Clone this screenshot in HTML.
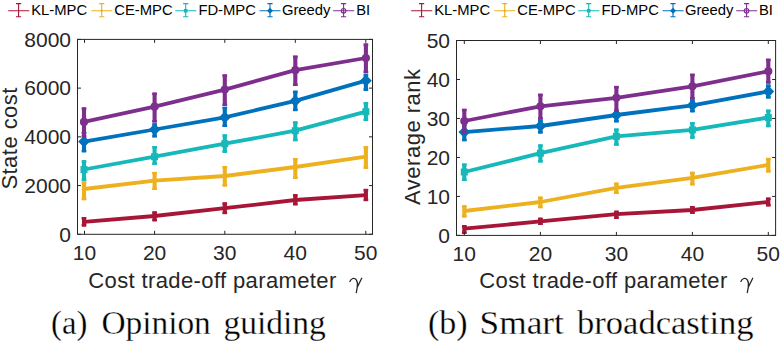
<!DOCTYPE html>
<html><head><meta charset="utf-8"><style>
html,body{margin:0;padding:0;background:#fff;width:781px;height:342px;overflow:hidden}
svg{display:block}
text{font-family:"Liberation Sans",sans-serif;}
.tk{font-size:21px;fill:#262626}
.lb{font-size:22px;fill:#262626}
.lg{font-size:14.8px;fill:#000}
.gm{font-family:"Liberation Serif",serif;font-style:italic;font-size:24px;fill:#262626}
.cap{font-family:"Liberation Serif",serif;font-size:33px;fill:#000;stroke:#fff;stroke-width:0.3px}
</style></head><body>
<svg width="781" height="342" viewBox="0 0 781 342">
<path d="M8.2 10.75H29.2M18.6 3.6V16.7M16.0 3.6H21.200000000000003M16.0 16.7H21.200000000000003" stroke="#A71636" stroke-width="1.1" fill="none"/>
<text x="31.20" y="15.4" class="lg">KL-MPC</text>
<path d="M91.3 10.75H112.3M101.7 3.6V16.7M99.10000000000001 3.6H104.3M99.10000000000001 16.7H104.3" stroke="#EDB120" stroke-width="1.1" fill="none"/>
<circle cx="101.7" cy="10.75" r="1.2" fill="#EDB120"/>
<text x="114.30" y="15.4" class="lg">CE-MPC</text>
<path d="M175.3 10.75H196.3M185.70000000000002 3.6V16.7M183.10000000000002 3.6H188.3M183.10000000000002 16.7H188.3" stroke="#17B8BA" stroke-width="1.1" fill="none"/>
<rect x="183.9" y="8.95" width="3.6" height="3.6" fill="#17B8BA"/>
<text x="198.40" y="15.4" class="lg">FD-MPC</text>
<path d="M259.6 10.75H280.6M270.0 3.6V16.7M267.4 3.6H272.6M267.4 16.7H272.6" stroke="#0072BD" stroke-width="1.1" fill="none"/>
<path d="M267.0 10.75L270.0 7.75L273.0 10.75L270.0 13.75Z" fill="#0072BD"/>
<text x="281.90" y="15.4" class="lg">Greedy</text>
<path d="M333.2 10.75H354.2M343.59999999999997 3.6V16.7M340.99999999999994 3.6H346.2M340.99999999999994 16.7H346.2" stroke="#7E2F8E" stroke-width="1.1" fill="none"/>
<circle cx="343.59999999999997" cy="10.75" r="2.3" fill="none" stroke="#7E2F8E" stroke-width="1.1"/>
<text x="356.20" y="15.4" class="lg">BI</text>
<path d="M411.2 10.75H432.2M421.59999999999997 3.6V16.7M418.99999999999994 3.6H424.2M418.99999999999994 16.7H424.2" stroke="#A71636" stroke-width="1.1" fill="none"/>
<text x="434.20" y="15.4" class="lg">KL-MPC</text>
<path d="M494.3 10.75H515.3M504.7 3.6V16.7M502.09999999999997 3.6H507.3M502.09999999999997 16.7H507.3" stroke="#EDB120" stroke-width="1.1" fill="none"/>
<circle cx="504.7" cy="10.75" r="1.2" fill="#EDB120"/>
<text x="517.30" y="15.4" class="lg">CE-MPC</text>
<path d="M578.3 10.75H599.3M588.6999999999999 3.6V16.7M586.0999999999999 3.6H591.3M586.0999999999999 16.7H591.3" stroke="#17B8BA" stroke-width="1.1" fill="none"/>
<rect x="586.9" y="8.95" width="3.6" height="3.6" fill="#17B8BA"/>
<text x="601.40" y="15.4" class="lg">FD-MPC</text>
<path d="M662.6 10.75H683.6M673.0 3.6V16.7M670.4 3.6H675.6M670.4 16.7H675.6" stroke="#0072BD" stroke-width="1.1" fill="none"/>
<path d="M670.0 10.75L673.0 7.75L676.0 10.75L673.0 13.75Z" fill="#0072BD"/>
<text x="684.90" y="15.4" class="lg">Greedy</text>
<path d="M736.2 10.75H757.2M746.6 3.6V16.7M744.0 3.6H749.2M744.0 16.7H749.2" stroke="#7E2F8E" stroke-width="1.1" fill="none"/>
<circle cx="746.6" cy="10.75" r="2.3" fill="none" stroke="#7E2F8E" stroke-width="1.1"/>
<text x="759.00" y="15.4" class="lg">BI</text>
<clipPath id="c1"><rect x="77.5" y="39.4" width="295.0" height="194.9"/></clipPath>
<g clip-path="url(#c1)">
<polyline points="84.0,221.8 154.6,216 224.8,208.2 295.3,200 365.9,195.2" fill="none" stroke="#A71636" stroke-width="3.8" stroke-linejoin="round"/>
<rect x="81.95" y="217.00" width="4.1" height="9.50" fill="#A71636"/>
<rect x="81.65" y="217.00" width="4.7" height="2.5" fill="#A71636"/>
<rect x="81.65" y="224.00" width="4.7" height="2.5" fill="#A71636"/>

<rect x="152.55" y="211.40" width="4.1" height="9.90" fill="#A71636"/>
<rect x="152.25" y="211.40" width="4.7" height="2.5" fill="#A71636"/>
<rect x="152.25" y="218.80" width="4.7" height="2.5" fill="#A71636"/>

<rect x="222.75" y="202.40" width="4.1" height="11.70" fill="#A71636"/>
<rect x="222.45" y="202.40" width="4.7" height="2.5" fill="#A71636"/>
<rect x="222.45" y="211.60" width="4.7" height="2.5" fill="#A71636"/>

<rect x="293.25" y="194.20" width="4.1" height="11.10" fill="#A71636"/>
<rect x="292.95" y="194.20" width="4.7" height="2.5" fill="#A71636"/>
<rect x="292.95" y="202.80" width="4.7" height="2.5" fill="#A71636"/>

<rect x="363.85" y="188.90" width="4.1" height="12.20" fill="#A71636"/>
<rect x="363.55" y="188.90" width="4.7" height="2.5" fill="#A71636"/>
<rect x="363.55" y="198.60" width="4.7" height="2.5" fill="#A71636"/>

<polyline points="84.0,189 154.6,180.7 224.8,176 295.3,167 365.9,156.7" fill="none" stroke="#EDB120" stroke-width="3.8" stroke-linejoin="round"/>
<rect x="81.95" y="181.40" width="4.1" height="18.80" fill="#EDB120"/>
<rect x="81.65" y="181.40" width="4.7" height="2.5" fill="#EDB120"/>
<rect x="81.65" y="197.70" width="4.7" height="2.5" fill="#EDB120"/>
<circle cx="84.0" cy="189" r="1.00" fill="#EDB120"/>
<rect x="152.55" y="171.90" width="4.1" height="18.10" fill="#EDB120"/>
<rect x="152.25" y="171.90" width="4.7" height="2.5" fill="#EDB120"/>
<rect x="152.25" y="187.50" width="4.7" height="2.5" fill="#EDB120"/>
<circle cx="154.6" cy="180.7" r="1.00" fill="#EDB120"/>
<rect x="222.75" y="166.00" width="4.1" height="20.50" fill="#EDB120"/>
<rect x="222.45" y="166.00" width="4.7" height="2.5" fill="#EDB120"/>
<rect x="222.45" y="184.00" width="4.7" height="2.5" fill="#EDB120"/>
<circle cx="224.8" cy="176" r="1.00" fill="#EDB120"/>
<rect x="293.25" y="158.00" width="4.1" height="21.00" fill="#EDB120"/>
<rect x="292.95" y="158.00" width="4.7" height="2.5" fill="#EDB120"/>
<rect x="292.95" y="176.50" width="4.7" height="2.5" fill="#EDB120"/>
<circle cx="295.3" cy="167" r="1.00" fill="#EDB120"/>
<rect x="363.85" y="146.10" width="4.1" height="22.80" fill="#EDB120"/>
<rect x="363.55" y="146.10" width="4.7" height="2.5" fill="#EDB120"/>
<rect x="363.55" y="166.40" width="4.7" height="2.5" fill="#EDB120"/>
<circle cx="365.9" cy="156.7" r="1.00" fill="#EDB120"/>
<polyline points="84.0,169.5 154.6,156.7 224.8,143.7 295.3,130.7 365.9,111.7" fill="none" stroke="#17B8BA" stroke-width="3.8" stroke-linejoin="round"/>
<rect x="81.95" y="160.20" width="4.1" height="20.70" fill="#17B8BA"/>
<rect x="81.65" y="160.20" width="4.7" height="2.5" fill="#17B8BA"/>
<rect x="81.65" y="178.40" width="4.7" height="2.5" fill="#17B8BA"/>
<rect x="82.40" y="167.90" width="3.20" height="3.20" fill="#17B8BA" stroke="#17B8BA" stroke-width="3.8"/>
<rect x="152.55" y="146.00" width="4.1" height="18.90" fill="#17B8BA"/>
<rect x="152.25" y="146.00" width="4.7" height="2.5" fill="#17B8BA"/>
<rect x="152.25" y="162.40" width="4.7" height="2.5" fill="#17B8BA"/>
<rect x="153.00" y="155.10" width="3.20" height="3.20" fill="#17B8BA" stroke="#17B8BA" stroke-width="3.8"/>
<rect x="222.75" y="134.40" width="4.1" height="18.40" fill="#17B8BA"/>
<rect x="222.45" y="134.40" width="4.7" height="2.5" fill="#17B8BA"/>
<rect x="222.45" y="150.30" width="4.7" height="2.5" fill="#17B8BA"/>
<rect x="223.20" y="142.10" width="3.20" height="3.20" fill="#17B8BA" stroke="#17B8BA" stroke-width="3.8"/>
<rect x="293.25" y="121.40" width="4.1" height="19.80" fill="#17B8BA"/>
<rect x="292.95" y="121.40" width="4.7" height="2.5" fill="#17B8BA"/>
<rect x="292.95" y="138.70" width="4.7" height="2.5" fill="#17B8BA"/>
<rect x="293.70" y="129.10" width="3.20" height="3.20" fill="#17B8BA" stroke="#17B8BA" stroke-width="3.8"/>
<rect x="363.85" y="102.00" width="4.1" height="19.00" fill="#17B8BA"/>
<rect x="363.55" y="102.00" width="4.7" height="2.5" fill="#17B8BA"/>
<rect x="363.55" y="118.50" width="4.7" height="2.5" fill="#17B8BA"/>
<rect x="364.30" y="110.10" width="3.20" height="3.20" fill="#17B8BA" stroke="#17B8BA" stroke-width="3.8"/>
<polyline points="84.0,141.6 154.6,129.5 224.8,117.4 295.3,100.9 365.9,80.7" fill="none" stroke="#0072BD" stroke-width="3.8" stroke-linejoin="round"/>
<rect x="81.95" y="131.60" width="4.1" height="20.70" fill="#0072BD"/>
<rect x="81.65" y="131.60" width="4.7" height="2.5" fill="#0072BD"/>
<rect x="81.65" y="149.80" width="4.7" height="2.5" fill="#0072BD"/>
<path d="M80.80 141.60L84.00 138.40L87.20 141.60L84.00 144.80Z" fill="#0072BD" stroke="#0072BD" stroke-width="3.8" stroke-linejoin="miter"/>
<rect x="152.55" y="123.30" width="4.1" height="14.10" fill="#0072BD"/>
<rect x="152.25" y="123.30" width="4.7" height="2.5" fill="#0072BD"/>
<rect x="152.25" y="134.90" width="4.7" height="2.5" fill="#0072BD"/>
<path d="M151.40 129.50L154.60 126.30L157.80 129.50L154.60 132.70Z" fill="#0072BD" stroke="#0072BD" stroke-width="3.8" stroke-linejoin="miter"/>
<rect x="222.75" y="106.80" width="4.1" height="20.20" fill="#0072BD"/>
<rect x="222.45" y="106.80" width="4.7" height="2.5" fill="#0072BD"/>
<rect x="222.45" y="124.50" width="4.7" height="2.5" fill="#0072BD"/>
<path d="M221.60 117.40L224.80 114.20L228.00 117.40L224.80 120.60Z" fill="#0072BD" stroke="#0072BD" stroke-width="3.8" stroke-linejoin="miter"/>
<rect x="293.25" y="90.70" width="4.1" height="20.40" fill="#0072BD"/>
<rect x="292.95" y="90.70" width="4.7" height="2.5" fill="#0072BD"/>
<rect x="292.95" y="108.60" width="4.7" height="2.5" fill="#0072BD"/>
<path d="M292.10 100.90L295.30 97.70L298.50 100.90L295.30 104.10Z" fill="#0072BD" stroke="#0072BD" stroke-width="3.8" stroke-linejoin="miter"/>
<rect x="363.85" y="74.20" width="4.1" height="16.70" fill="#0072BD"/>
<rect x="363.55" y="74.20" width="4.7" height="2.5" fill="#0072BD"/>
<rect x="363.55" y="88.40" width="4.7" height="2.5" fill="#0072BD"/>
<path d="M362.70 80.70L365.90 77.50L369.10 80.70L365.90 83.90Z" fill="#0072BD" stroke="#0072BD" stroke-width="3.8" stroke-linejoin="miter"/>
<polyline points="84.0,121.9 154.6,106.7 224.8,89.6 295.3,70.2 365.9,58" fill="none" stroke="#7E2F8E" stroke-width="3.8" stroke-linejoin="round"/>
<rect x="81.95" y="107.40" width="4.1" height="30.30" fill="#7E2F8E"/>
<rect x="81.65" y="107.40" width="4.7" height="2.5" fill="#7E2F8E"/>
<rect x="81.65" y="135.20" width="4.7" height="2.5" fill="#7E2F8E"/>
<circle cx="84.0" cy="121.9" r="2.20" fill="none" stroke="#7E2F8E" stroke-width="3.8"/>
<rect x="152.55" y="92.60" width="4.1" height="29.90" fill="#7E2F8E"/>
<rect x="152.25" y="92.60" width="4.7" height="2.5" fill="#7E2F8E"/>
<rect x="152.25" y="120.00" width="4.7" height="2.5" fill="#7E2F8E"/>
<circle cx="154.6" cy="106.7" r="2.20" fill="none" stroke="#7E2F8E" stroke-width="3.8"/>
<rect x="222.75" y="74.40" width="4.1" height="31.60" fill="#7E2F8E"/>
<rect x="222.45" y="74.40" width="4.7" height="2.5" fill="#7E2F8E"/>
<rect x="222.45" y="103.50" width="4.7" height="2.5" fill="#7E2F8E"/>
<circle cx="224.8" cy="89.6" r="2.20" fill="none" stroke="#7E2F8E" stroke-width="3.8"/>
<rect x="293.25" y="55.60" width="4.1" height="30.40" fill="#7E2F8E"/>
<rect x="292.95" y="55.60" width="4.7" height="2.5" fill="#7E2F8E"/>
<rect x="292.95" y="83.50" width="4.7" height="2.5" fill="#7E2F8E"/>
<circle cx="295.3" cy="70.2" r="2.20" fill="none" stroke="#7E2F8E" stroke-width="3.8"/>
<rect x="363.85" y="43.50" width="4.1" height="29.80" fill="#7E2F8E"/>
<rect x="363.55" y="43.50" width="4.7" height="2.5" fill="#7E2F8E"/>
<rect x="363.55" y="70.80" width="4.7" height="2.5" fill="#7E2F8E"/>
<circle cx="365.9" cy="58" r="2.20" fill="none" stroke="#7E2F8E" stroke-width="3.8"/>
</g>
<rect x="77.5" y="39.4" width="295.00" height="194.90" fill="none" stroke="#262626" stroke-width="1"/>
<path d="M84.5 234.3V230.8M84.5 39.4V42.9M154.6 234.3V230.8M154.6 39.4V42.9M224.8 234.3V230.8M224.8 39.4V42.9M295.3 234.3V230.8M295.3 39.4V42.9M365.8 234.3V230.8M365.8 39.4V42.9M77.5 234.30H81.0M372.5 234.30H369.0M77.5 185.58H81.0M372.5 185.58H369.0M77.5 136.85H81.0M372.5 136.85H369.0M77.5 88.12H81.0M372.5 88.12H369.0M77.5 39.40H81.0M372.5 39.40H369.0" stroke="#262626" stroke-width="1" fill="none"/>
<clipPath id="c2"><rect x="456.5" y="40.5" width="319.1" height="194.9"/></clipPath>
<g clip-path="url(#c2)">
<polyline points="464.3,228.7 540.4,221.4 616.4,214.2 692.4,210 768.3,202" fill="none" stroke="#A71636" stroke-width="3.8" stroke-linejoin="round"/>
<rect x="462.25" y="225.10" width="4.1" height="8.80" fill="#A71636"/>
<rect x="461.95" y="225.10" width="4.7" height="2.5" fill="#A71636"/>
<rect x="461.95" y="231.40" width="4.7" height="2.5" fill="#A71636"/>

<rect x="538.35" y="217.70" width="4.1" height="7.30" fill="#A71636"/>
<rect x="538.05" y="217.70" width="4.7" height="2.5" fill="#A71636"/>
<rect x="538.05" y="222.50" width="4.7" height="2.5" fill="#A71636"/>

<rect x="614.35" y="210.70" width="4.1" height="8.20" fill="#A71636"/>
<rect x="614.05" y="210.70" width="4.7" height="2.5" fill="#A71636"/>
<rect x="614.05" y="216.40" width="4.7" height="2.5" fill="#A71636"/>

<rect x="690.35" y="206.00" width="4.1" height="7.90" fill="#A71636"/>
<rect x="690.05" y="206.00" width="4.7" height="2.5" fill="#A71636"/>
<rect x="690.05" y="211.40" width="4.7" height="2.5" fill="#A71636"/>

<rect x="766.25" y="197.60" width="4.1" height="8.80" fill="#A71636"/>
<rect x="765.95" y="197.60" width="4.7" height="2.5" fill="#A71636"/>
<rect x="765.95" y="203.90" width="4.7" height="2.5" fill="#A71636"/>

<polyline points="464.3,211 540.4,202 616.4,187.9 692.4,177.9 768.3,164.9" fill="none" stroke="#EDB120" stroke-width="3.8" stroke-linejoin="round"/>
<rect x="462.25" y="205.30" width="4.1" height="12.20" fill="#EDB120"/>
<rect x="461.95" y="205.30" width="4.7" height="2.5" fill="#EDB120"/>
<rect x="461.95" y="215.00" width="4.7" height="2.5" fill="#EDB120"/>
<circle cx="464.3" cy="211" r="1.00" fill="#EDB120"/>
<rect x="538.35" y="196.60" width="4.1" height="11.60" fill="#EDB120"/>
<rect x="538.05" y="196.60" width="4.7" height="2.5" fill="#EDB120"/>
<rect x="538.05" y="205.70" width="4.7" height="2.5" fill="#EDB120"/>
<circle cx="540.4" cy="202" r="1.00" fill="#EDB120"/>
<rect x="614.35" y="182.60" width="4.1" height="11.40" fill="#EDB120"/>
<rect x="614.05" y="182.60" width="4.7" height="2.5" fill="#EDB120"/>
<rect x="614.05" y="191.50" width="4.7" height="2.5" fill="#EDB120"/>
<circle cx="616.4" cy="187.9" r="1.00" fill="#EDB120"/>
<rect x="690.35" y="171.75" width="4.1" height="13.65" fill="#EDB120"/>
<rect x="690.05" y="171.75" width="4.7" height="2.5" fill="#EDB120"/>
<rect x="690.05" y="182.90" width="4.7" height="2.5" fill="#EDB120"/>
<circle cx="692.4" cy="177.9" r="1.00" fill="#EDB120"/>
<rect x="766.25" y="157.90" width="4.1" height="14.60" fill="#EDB120"/>
<rect x="765.95" y="157.90" width="4.7" height="2.5" fill="#EDB120"/>
<rect x="765.95" y="170.00" width="4.7" height="2.5" fill="#EDB120"/>
<circle cx="768.3" cy="164.9" r="1.00" fill="#EDB120"/>
<polyline points="464.3,172 540.4,153.2 616.4,136.4 692.4,129.9 768.3,117.5" fill="none" stroke="#17B8BA" stroke-width="3.8" stroke-linejoin="round"/>
<rect x="462.25" y="163.50" width="4.1" height="17.50" fill="#17B8BA"/>
<rect x="461.95" y="163.50" width="4.7" height="2.5" fill="#17B8BA"/>
<rect x="461.95" y="178.50" width="4.7" height="2.5" fill="#17B8BA"/>
<rect x="462.70" y="170.40" width="3.20" height="3.20" fill="#17B8BA" stroke="#17B8BA" stroke-width="3.8"/>
<rect x="538.35" y="144.40" width="4.1" height="18.10" fill="#17B8BA"/>
<rect x="538.05" y="144.40" width="4.7" height="2.5" fill="#17B8BA"/>
<rect x="538.05" y="160.00" width="4.7" height="2.5" fill="#17B8BA"/>
<rect x="538.80" y="151.60" width="3.20" height="3.20" fill="#17B8BA" stroke="#17B8BA" stroke-width="3.8"/>
<rect x="614.35" y="128.50" width="4.1" height="17.20" fill="#17B8BA"/>
<rect x="614.05" y="128.50" width="4.7" height="2.5" fill="#17B8BA"/>
<rect x="614.05" y="143.20" width="4.7" height="2.5" fill="#17B8BA"/>
<rect x="614.80" y="134.80" width="3.20" height="3.20" fill="#17B8BA" stroke="#17B8BA" stroke-width="3.8"/>
<rect x="690.35" y="122.00" width="4.1" height="16.70" fill="#17B8BA"/>
<rect x="690.05" y="122.00" width="4.7" height="2.5" fill="#17B8BA"/>
<rect x="690.05" y="136.20" width="4.7" height="2.5" fill="#17B8BA"/>
<rect x="690.80" y="128.30" width="3.20" height="3.20" fill="#17B8BA" stroke="#17B8BA" stroke-width="3.8"/>
<rect x="766.25" y="109.60" width="4.1" height="17.60" fill="#17B8BA"/>
<rect x="765.95" y="109.60" width="4.7" height="2.5" fill="#17B8BA"/>
<rect x="765.95" y="124.70" width="4.7" height="2.5" fill="#17B8BA"/>
<rect x="766.70" y="115.90" width="3.20" height="3.20" fill="#17B8BA" stroke="#17B8BA" stroke-width="3.8"/>
<polyline points="464.3,132.1 540.4,126 616.4,115 692.4,105.3 768.3,91.5" fill="none" stroke="#0072BD" stroke-width="3.8" stroke-linejoin="round"/>
<rect x="462.25" y="123.00" width="4.1" height="18.20" fill="#0072BD"/>
<rect x="461.95" y="123.00" width="4.7" height="2.5" fill="#0072BD"/>
<rect x="461.95" y="138.70" width="4.7" height="2.5" fill="#0072BD"/>
<path d="M461.10 132.10L464.30 128.90L467.50 132.10L464.30 135.30Z" fill="#0072BD" stroke="#0072BD" stroke-width="3.8" stroke-linejoin="miter"/>
<rect x="538.35" y="119.50" width="4.1" height="14.00" fill="#0072BD"/>
<rect x="538.05" y="119.50" width="4.7" height="2.5" fill="#0072BD"/>
<rect x="538.05" y="131.00" width="4.7" height="2.5" fill="#0072BD"/>
<path d="M537.20 126.00L540.40 122.80L543.60 126.00L540.40 129.20Z" fill="#0072BD" stroke="#0072BD" stroke-width="3.8" stroke-linejoin="miter"/>
<rect x="614.35" y="111.80" width="4.1" height="10.60" fill="#0072BD"/>
<rect x="614.05" y="111.80" width="4.7" height="2.5" fill="#0072BD"/>
<rect x="614.05" y="119.90" width="4.7" height="2.5" fill="#0072BD"/>
<path d="M613.20 115.00L616.40 111.80L619.60 115.00L616.40 118.20Z" fill="#0072BD" stroke="#0072BD" stroke-width="3.8" stroke-linejoin="miter"/>
<rect x="690.35" y="99.50" width="4.1" height="12.80" fill="#0072BD"/>
<rect x="690.05" y="99.50" width="4.7" height="2.5" fill="#0072BD"/>
<rect x="690.05" y="109.80" width="4.7" height="2.5" fill="#0072BD"/>
<path d="M689.20 105.30L692.40 102.10L695.60 105.30L692.40 108.50Z" fill="#0072BD" stroke="#0072BD" stroke-width="3.8" stroke-linejoin="miter"/>
<rect x="766.25" y="84.50" width="4.1" height="14.00" fill="#0072BD"/>
<rect x="765.95" y="84.50" width="4.7" height="2.5" fill="#0072BD"/>
<rect x="765.95" y="96.00" width="4.7" height="2.5" fill="#0072BD"/>
<path d="M765.10 91.50L768.30 88.30L771.50 91.50L768.30 94.70Z" fill="#0072BD" stroke="#0072BD" stroke-width="3.8" stroke-linejoin="miter"/>
<polyline points="464.3,121 540.4,106.3 616.4,97.8 692.4,86.3 768.3,71.3" fill="none" stroke="#7E2F8E" stroke-width="3.8" stroke-linejoin="round"/>
<rect x="462.25" y="108.80" width="4.1" height="24.70" fill="#7E2F8E"/>
<rect x="461.95" y="108.80" width="4.7" height="2.5" fill="#7E2F8E"/>
<rect x="461.95" y="131.00" width="4.7" height="2.5" fill="#7E2F8E"/>
<circle cx="464.3" cy="121" r="2.20" fill="none" stroke="#7E2F8E" stroke-width="3.8"/>
<rect x="538.35" y="93.70" width="4.1" height="25.80" fill="#7E2F8E"/>
<rect x="538.05" y="93.70" width="4.7" height="2.5" fill="#7E2F8E"/>
<rect x="538.05" y="117.00" width="4.7" height="2.5" fill="#7E2F8E"/>
<circle cx="540.4" cy="106.3" r="2.20" fill="none" stroke="#7E2F8E" stroke-width="3.8"/>
<rect x="614.35" y="85.90" width="4.1" height="25.90" fill="#7E2F8E"/>
<rect x="614.05" y="85.90" width="4.7" height="2.5" fill="#7E2F8E"/>
<rect x="614.05" y="109.30" width="4.7" height="2.5" fill="#7E2F8E"/>
<circle cx="616.4" cy="97.8" r="2.20" fill="none" stroke="#7E2F8E" stroke-width="3.8"/>
<rect x="690.35" y="73.70" width="4.1" height="25.80" fill="#7E2F8E"/>
<rect x="690.05" y="73.70" width="4.7" height="2.5" fill="#7E2F8E"/>
<rect x="690.05" y="97.00" width="4.7" height="2.5" fill="#7E2F8E"/>
<circle cx="692.4" cy="86.3" r="2.20" fill="none" stroke="#7E2F8E" stroke-width="3.8"/>
<rect x="766.25" y="58.70" width="4.1" height="24.90" fill="#7E2F8E"/>
<rect x="765.95" y="58.70" width="4.7" height="2.5" fill="#7E2F8E"/>
<rect x="765.95" y="81.10" width="4.7" height="2.5" fill="#7E2F8E"/>
<circle cx="768.3" cy="71.3" r="2.20" fill="none" stroke="#7E2F8E" stroke-width="3.8"/>
</g>
<rect x="456.5" y="40.5" width="319.10" height="194.90" fill="none" stroke="#262626" stroke-width="1"/>
<path d="M464.3 235.4V231.9M464.3 40.5V44.0M540.4 235.4V231.9M540.4 40.5V44.0M616.4 235.4V231.9M616.4 40.5V44.0M692.4 235.4V231.9M692.4 40.5V44.0M768.3 235.4V231.9M768.3 40.5V44.0M456.5 235.40H460.0M775.6 235.40H772.1M456.5 196.42H460.0M775.6 196.42H772.1M456.5 157.44H460.0M775.6 157.44H772.1M456.5 118.46H460.0M775.6 118.46H772.1M456.5 79.48H460.0M775.6 79.48H772.1M456.5 40.50H460.0M775.6 40.50H772.1" stroke="#262626" stroke-width="1" fill="none"/>
<text x="71" y="241.50" class="tk" text-anchor="end">0</text>
<text x="71" y="192.78" class="tk" text-anchor="end">2000</text>
<text x="71" y="144.05" class="tk" text-anchor="end">4000</text>
<text x="71" y="95.33" class="tk" text-anchor="end">6000</text>
<text x="71" y="46.60" class="tk" text-anchor="end">8000</text>
<text x="450" y="242.60" class="tk" text-anchor="end">0</text>
<text x="450" y="203.62" class="tk" text-anchor="end">10</text>
<text x="450" y="164.64" class="tk" text-anchor="end">20</text>
<text x="450" y="125.66" class="tk" text-anchor="end">30</text>
<text x="450" y="86.68" class="tk" text-anchor="end">40</text>
<text x="450" y="47.70" class="tk" text-anchor="end">50</text>
<text x="84.5" y="260.4" class="tk" text-anchor="middle">10</text>
<text x="154.6" y="260.4" class="tk" text-anchor="middle">20</text>
<text x="224.8" y="260.4" class="tk" text-anchor="middle">30</text>
<text x="295.3" y="260.4" class="tk" text-anchor="middle">40</text>
<text x="365.8" y="260.4" class="tk" text-anchor="middle">50</text>
<text x="464.3" y="261.4" class="tk" text-anchor="middle">10</text>
<text x="540.4" y="261.4" class="tk" text-anchor="middle">20</text>
<text x="616.4" y="261.4" class="tk" text-anchor="middle">30</text>
<text x="692.4" y="261.4" class="tk" text-anchor="middle">40</text>
<text x="768.3" y="261.4" class="tk" text-anchor="middle">50</text>
<text x="88.3" y="288" class="lb" textLength="248" lengthAdjust="spacing">Cost trade-off parameter</text>
<path d="M349.9 281.4C351 278.6 354.4 277 356.3 279.8C357.6 281.8 357.7 285 357.3 287.2L356.3 292.5M361.7 278.3L357.3 287.2" fill="none" stroke="#262626" stroke-width="1.3" stroke-linecap="round"/>
<text x="479.3" y="288" class="lb" textLength="248" lengthAdjust="spacing">Cost trade-off parameter</text>
<path d="M349.9 281.4C351 278.6 354.4 277 356.3 279.8C357.6 281.8 357.7 285 357.3 287.2L356.3 292.5M361.7 278.3L357.3 287.2" transform="translate(391 0)" fill="none" stroke="#262626" stroke-width="1.3" stroke-linecap="round"/>
<text transform="translate(17.2 189.6) rotate(-90)" class="lb" textLength="102" lengthAdjust="spacing">State cost</text>
<text transform="translate(420.0 204.9) rotate(-90)" class="lb" textLength="136" lengthAdjust="spacing">Average rank</text>
<text x="51.10" y="334.3" class="cap" textLength="36.30" lengthAdjust="spacingAndGlyphs">(a)</text>
<text x="101.40" y="334.3" class="cap" textLength="109.40" lengthAdjust="spacingAndGlyphs">Opinion</text>
<text x="223.40" y="334.3" class="cap" textLength="102.50" lengthAdjust="spacingAndGlyphs">guiding</text>
<text x="428.00" y="334.3" class="cap" textLength="39.60" lengthAdjust="spacingAndGlyphs">(b)</text>
<text x="479.60" y="334.3" class="cap" textLength="84.30" lengthAdjust="spacingAndGlyphs">Smart</text>
<text x="577.10" y="334.3" class="cap" textLength="176.40" lengthAdjust="spacingAndGlyphs">broadcasting</text>
</svg>
</body></html>
